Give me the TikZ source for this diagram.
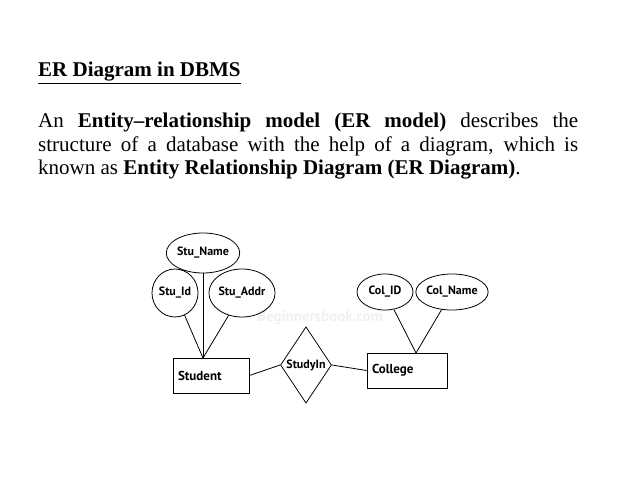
\documentclass[tikz,border=0pt]{standalone}
\usepackage{fontspec}
\setmainfont{Liberation Serif}
\newfontfamily\dfont{PT Sans}
\usetikzlibrary{shapes.geometric}
\begin{document}
\begin{tikzpicture}[x=1pt,y=-1pt,
  attr/.style={draw,thick,ellipse,inner sep=0pt,font=\dfont\bfseries\fontsize{12}{13}\selectfont},
  ent/.style={draw,thick,rectangle,font=\dfont\bfseries\fontsize{13}{14}\selectfont},
  rel/.style={draw,thick,diamond,aspect=0.65,inner sep=1pt,font=\dfont\bfseries\fontsize{12}{13}\selectfont},
  conn/.style={thick}]
\useasboundingbox (0,0) rectangle (638,478);
\node[anchor=base west,inner sep=0pt,font=\fontsize{21}{23}\selectfont\bfseries] (title) at (38,77) {\underline{ER Diagram in DBMS}};
\node[anchor=base west,inner sep=0pt,text width=540pt,align=justify,font=\fontsize{21}{23.5}\selectfont] (para) at (38,128)
{An \textbf{Entity--relationship model (ER model)} describes the\linebreak structure of a database with the help of a diagram, which is\linebreak known as \textbf{Entity Relationship Diagram (ER Diagram)}.};
\node[font=\dfont\bfseries\fontsize{15}{16}\selectfont,text=gray!12] (wm) at (320,318) {Beginnersbook.com};
\node[ent,minimum width=76pt,minimum height=35pt,text width=66pt,align=left] (student) at (211,375.5) {Student};
\node[ent,minimum width=80pt,minimum height=35pt,text width=70pt,align=left] (college) at (407,370.5) {College};
\node[rel,minimum width=51pt,minimum height=76pt] (rel) at (306,365) {StudyIn};
\node[attr,minimum width=54pt,minimum height=40pt] (sname) at (203,253) {Stu\_Name};
\node[attr,minimum width=46pt,minimum height=48pt] (sid) at (175,293) {Stu\_Id};
\node[attr,minimum width=48pt,minimum height=48pt] (saddr) at (242,293) {Stu\_Addr};
\node[attr,minimum width=56pt,minimum height=36pt] (cid) at (385,292) {Col\_ID};
\node[attr,minimum width=52pt,minimum height=36pt] (cname) at (452,292) {Col\_Name};
\coordinate (st) at (203,358);
\coordinate (ct) at (416,353);
\draw[conn] (sname) -- (st);
\draw[conn] (sid) -- (st);
\draw[conn] (saddr) -- (st);
\draw[conn] (cid) -- (ct);
\draw[conn] (cname) -- (ct);
\draw[conn] (student.east) -- (rel.west);
\draw[conn] (rel.east) -- (college.west);
\end{tikzpicture}
\end{document}
